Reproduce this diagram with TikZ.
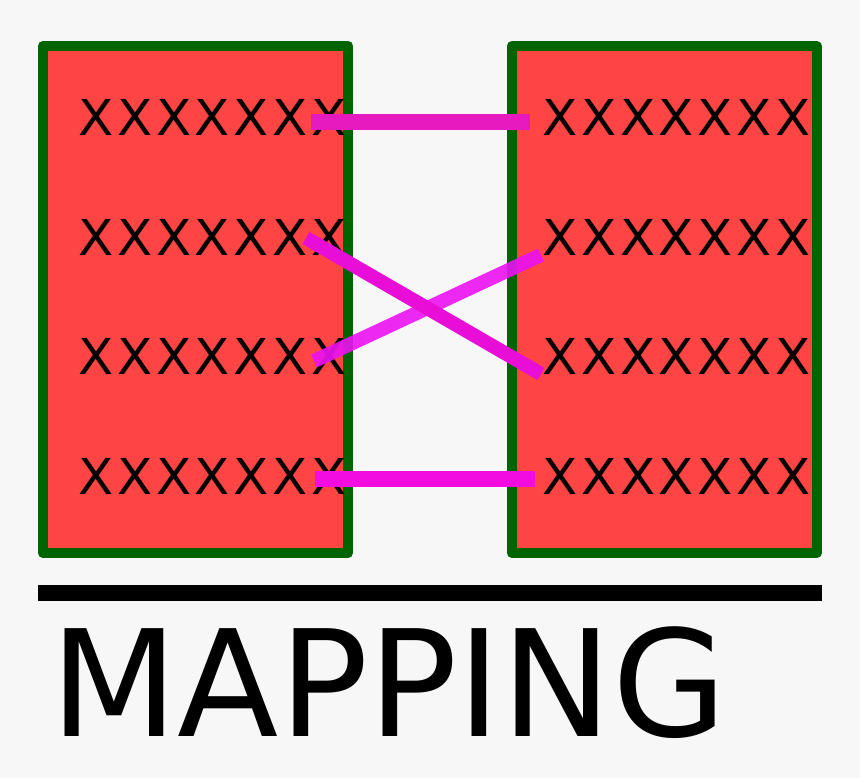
\documentclass[tikz,border=0pt]{standalone}
\usepackage{fontspec}
\setmainfont{DejaVu Sans}
\usetikzlibrary{positioning}
\definecolor{fond}{HTML}{F7F7F7}
\definecolor{rouge}{HTML}{FF4444}
\definecolor{vert}{HTML}{006400}
\definecolor{rose}{HTML}{E61ABF}
\definecolor{roseA}{HTML}{E80ED8}
\definecolor{roseB}{HTML}{EC12F2}
\definecolor{roseC}{HTML}{F20CDF}
\newcommand{\xrang}{\scalebox{1.04}[1]{XXXXXXX}}
\tikzset{
  bloc/.style={draw=vert, fill=rouge, line width=10pt, line join=round,
               minimum width=305pt, minimum height=507pt, inner sep=0pt},
  rang/.style={anchor=base west, inner sep=0pt, outer sep=0pt,
               font=\fontsize{49.4}{50}\selectfont\addfontfeature{LetterSpace=7}},
  lien/.style={line width=16pt}
}

\begin{document}
\begin{tikzpicture}[x=1pt, y=-1pt]
\useasboundingbox (0,0) rectangle (860,778);
\fill[fond] (0,0) rectangle (860,778);

\node[bloc](gauche) at (195.5,299.5) {};
\node[bloc](droite) at (664.25,299.5) {};

\node[rang](g1) at (78.5,136) {\xrang};
\node[rang](g2) at (78.5,255.3) {\xrang};
\node[rang](g3) at (78.5,374.7) {\xrang};
\node[rang](g4) at (78.5,494) {\xrang};
\node[rang](d1) at (542.5,136) {\xrang};
\node[rang](d2) at (542.5,255.3) {\xrang};
\node[rang](d3) at (542.5,374.7) {\xrang};
\node[rang](d4) at (542.5,494) {\xrang};

\coordinate (a1) at (311,122);
\coordinate (b1) at (530,122);
\coordinate (a2) at (306,238);
\coordinate (b2) at (541,374);
\coordinate (a3) at (314,361);
\coordinate (b3) at (541,255);
\coordinate (a4) at (315,479);
\coordinate (b4) at (535,479);

\draw[lien, rose] (a1) -- (b1);
\draw[lien, line width=14pt, roseB, opacity=.9] (a3) -- (b3);
\draw[lien, line width=14pt, roseA] (a2) -- (b2);
\draw[lien, roseC] (a4) -- (b4);

\draw[line width=16pt] (38,593) coordinate (r1) -- (822,593) coordinate (r2);

\node[anchor=base west, inner sep=0pt](titre) at (50,736)
  {\fontsize{148}{150}\selectfont MAPPING};

\end{tikzpicture}
\end{document}
